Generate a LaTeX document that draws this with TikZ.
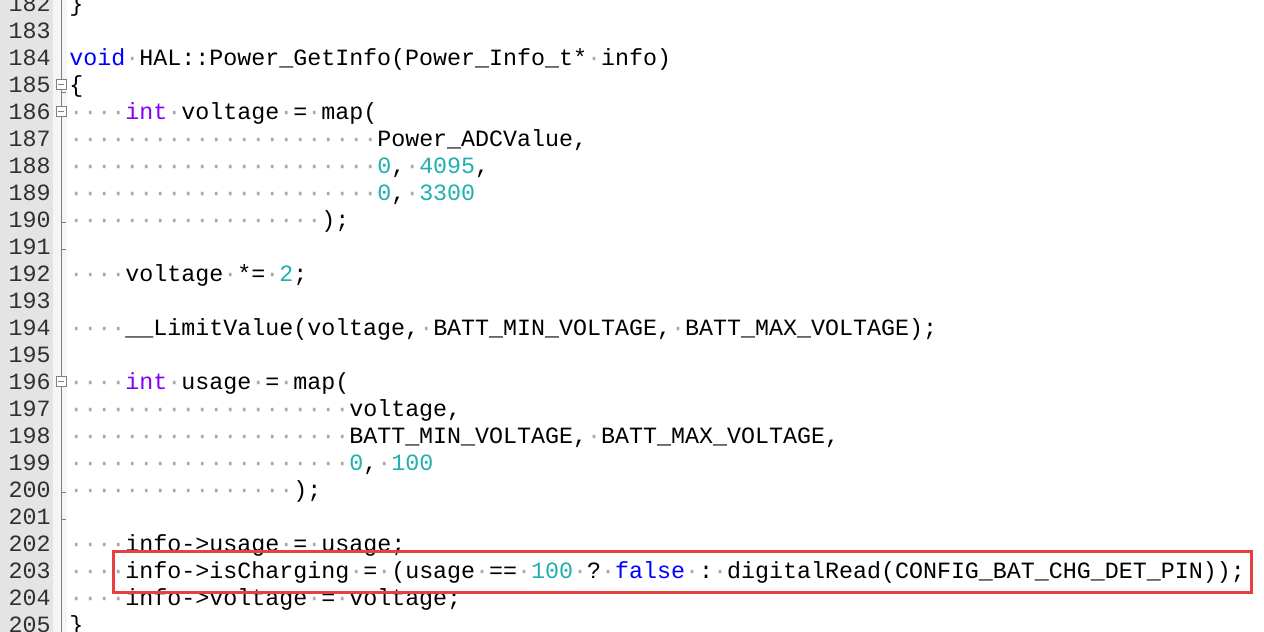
\documentclass[tikz,border=0pt]{standalone}
\usepackage{fontspec}
\setmonofont{Liberation Mono}
\definecolor{kw}{HTML}{0000FF}
\definecolor{ty}{HTML}{8000FF}
\definecolor{nu}{HTML}{20B0B0}
\definecolor{tx}{HTML}{000000}
\definecolor{dotc}{HTML}{A8A8A8}
\definecolor{gut}{HTML}{E4E4E4}
\definecolor{lnum}{HTML}{303030}
\definecolor{boxred}{HTML}{E84040}
\definecolor{fold}{HTML}{808080}
\catcode`\·=13
\def·{{\color{dotc}\char"B7}}
\newcommand\K[1]{{\color{kw}#1}}
\newcommand\T[1]{{\color{ty}#1}}
\newcommand\N[1]{{\color{nu}#1}}
\begin{document}
\begin{tikzpicture}[x=0.5pt,y=-0.5pt,
  code/.style={anchor=base west,inner sep=0,font=\ttfamily\fontsize{11.66}{14}\selectfont,text=tx},
  num/.style={anchor=base east,inner sep=0,font=\ttfamily\fontsize{11.66}{14}\selectfont,text=lnum},
  fbox/.style={draw=fold,fill=white,line width=0.5pt}]
\useasboundingbox (0,0) rectangle (1264,632);
\fill[white] (0,0) rectangle (1264,632);
\fill[gut] (0,0) rectangle (53,632);
\fill[gray!8] (53,0) rectangle (67,632);
% fold lines
\draw[fold,line width=0.5pt] (61,0) -- (61,92) -- (66,92);
\draw[fold,line width=0.5pt] (61,84) -- (61,632);
\foreach \yy in {222,249,492,519}{\draw[fold,line width=0.5pt] (61,\yy) -- (66,\yy);}
\foreach \yy in {84,111,381}{
  \draw[fbox] (56,\yy-5) rectangle (66,\yy+5);
  \draw[fold,line width=0.5pt] (58,\yy) -- (64,\yy);}
% line numbers
\foreach \n [count=\i from 0] in {182,...,205}{
  \node[num] (ln\n) at (51,{3+\i*27+8}) {\n};}
\def\L#1#2{\node[code] (c#1) at (69,{3+(#1-182)*27+8}) {#2};}
\L{182}{\}}
\L{184}{\K{void}·HAL::Power\_GetInfo(Power\_Info\_t*·info)}
\L{185}{\{}
\L{186}{····\T{int}·voltage·=·map(}
\L{187}{······················Power\_ADCValue,}
\L{188}{······················\N{0},·\N{4095},}
\L{189}{······················\N{0},·\N{3300}}
\L{190}{··················);}
\L{192}{····voltage·*=·\N{2};}
\L{194}{····\_\_LimitValue(voltage,·BATT\_MIN\_VOLTAGE,·BATT\_MAX\_VOLTAGE);}
\L{196}{····\T{int}·usage·=·map(}
\L{197}{····················voltage,}
\L{198}{····················BATT\_MIN\_VOLTAGE,·BATT\_MAX\_VOLTAGE,}
\L{199}{····················\N{0},·\N{100}}
\L{200}{················);}
\L{202}{····info->usage·=·usage;}
\L{203}{····info->isCharging·=·(usage·==·\N{100}·?·\K{false}·:·digitalRead(CONFIG\_BAT\_CHG\_DET\_PIN));}
\L{204}{····info->voltage·=·voltage;}
\L{205}{\}}
\node[draw=boxred,line width=1.5pt,inner sep=0,minimum width=569pt,minimum height=20.5pt,anchor=north west] (hl) at (112,550) {};
\end{tikzpicture}
\end{document}
